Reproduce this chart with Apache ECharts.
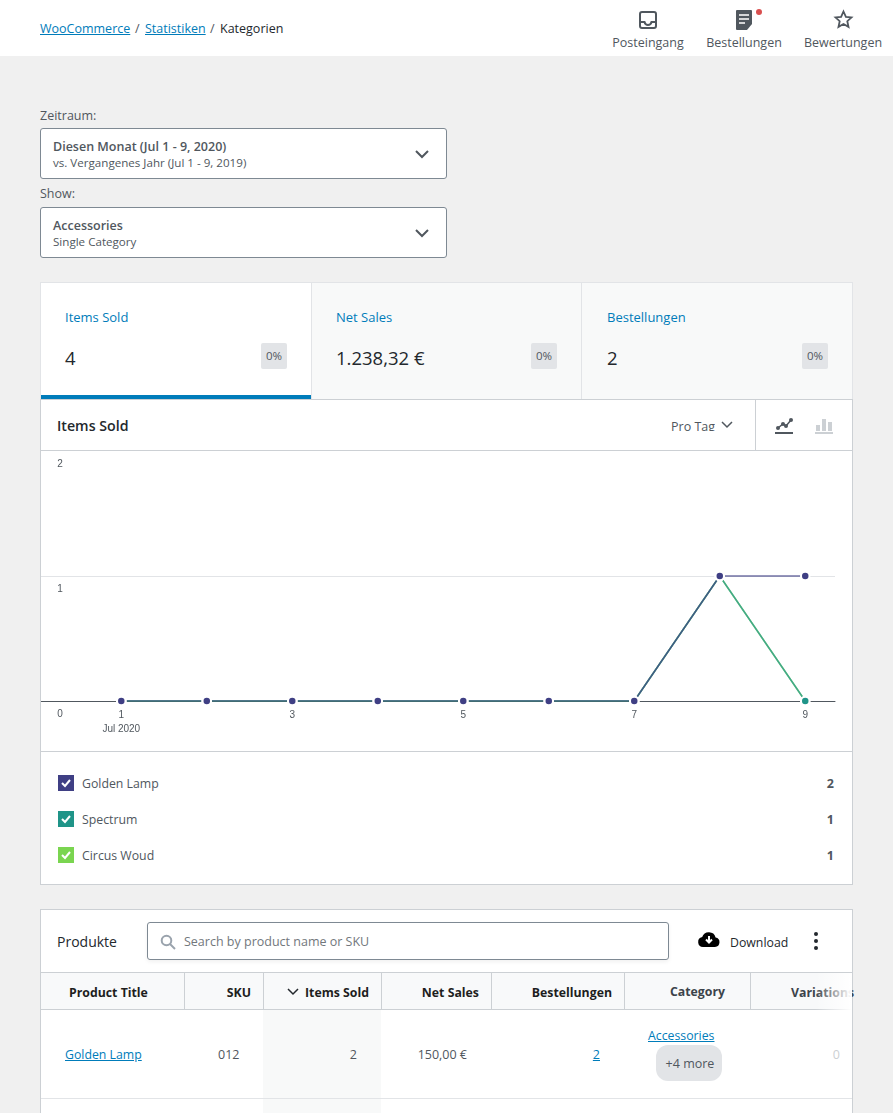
<!DOCTYPE html>
<html>
<head>
<meta charset="utf-8">
<title>Kategorien</title>
<script src="https://cdn.jsdelivr.net/npm/echarts@6/dist/echarts.min.js"></script>
<style>
html,body{margin:0;padding:0;width:893px;height:1113px;overflow:hidden;background:#f0f0f0;font-family:"Open Sans","Noto Sans",sans-serif;font-size:12.5px;color:#50575e}
.b{position:absolute;box-sizing:border-box}
.t{position:absolute;white-space:nowrap;line-height:18px;height:18px;margin-top:1px}
.r{transform:translateX(-100%)}
.c{transform:translateX(-50%)}
a{color:#007cba;text-decoration:underline}
.select{background:#fff;border:1px solid #7e8993;border-radius:3px;left:40px;width:407px;height:51px}
.th{font-weight:700;color:#1e1e1e;font-size:12.3px}
svg{position:absolute;overflow:visible}
</style>
</head>
<body>
<div class="b" style="left:0;top:0;width:893px;height:56px;background:#fff"></div>
<div class="t" style="left:40px;top:19px"><a href="#">WooCommerce</a></div>
<div class="t" style="left:135px;top:19px">/</div>
<div class="t" style="left:145px;top:19px"><a href="#">Statistiken</a></div>
<div class="t" style="left:210px;top:19px">/</div>
<div class="t" style="left:220px;top:19px;color:#23282d">Kategorien</div>

<svg style="left:639px;top:11px" width="18" height="18" fill="none" stroke="#50575e" stroke-width="2"><rect x="1" y="1" width="16" height="16" rx="2"/><path d="M1 11h4.500c.5 2 2 3 3.500 3s3-1 3.500-3H17"/></svg>
<svg style="left:736px;top:10px" width="16" height="20"><path d="M1 0h14a1 1 0 0 1 1 1v13l-5 6H1a1 1 0 0 1-1-1V1a1 1 0 0 1 1-1z" fill="#50575e"/><path d="M3 5h10M3 9h10M3 13h6" stroke="#fff" stroke-width="1.600"/></svg>
<svg style="left:756px;top:9px" width="6" height="6"><circle cx="3" cy="3" r="3" fill="#d94f4f"/></svg>
<svg style="left:834px;top:10px" width="19" height="19" fill="none" stroke="#50575e" stroke-width="1.800"><path d="M9.500 1.500l2.400 5.300 5.600.6-4.200 3.800 1.200 5.700-5-2.900-5 2.900 1.200-5.700L1.500 7.400l5.600-.6z"/></svg>
<div class="t c" style="left:648px;top:33px">Posteingang</div>
<div class="t c" style="left:744px;top:33px">Bestellungen</div>
<div class="t c" style="left:843px;top:33px">Bewertungen</div>

<div class="t" style="left:40px;top:106px">Zeitraum:</div>
<div class="b select" style="top:128px"></div>
<div class="t" style="left:53px;top:137px;font-weight:600">Diesen Monat (Jul 1 - 9, 2020)</div>
<div class="t" style="left:53px;top:153px;font-size:11.6px">vs. Vergangenes Jahr (Jul 1 - 9, 2019)</div>
<svg style="left:415px;top:150px" width="14" height="10" fill="none" stroke="#50575e" stroke-width="2"><path d="M1 1l6 6 6-6"/></svg>
<div class="t" style="left:40px;top:184px">Show:</div>
<div class="b select" style="top:207px"></div>
<div class="t" style="left:53px;top:216px;font-weight:600">Accessories</div>
<div class="t" style="left:53px;top:232px;font-size:11.6px">Single Category</div>
<svg style="left:415px;top:229px" width="14" height="10" fill="none" stroke="#50575e" stroke-width="2"><path d="M1 1l6 6 6-6"/></svg>

<!-- kpi row -->
<div class="b" style="left:40px;top:282px;width:813px;height:118px;background:#f8f9f9;border:1px solid #e2e4e7"></div>
<div class="b" style="left:41px;top:283px;width:270px;height:116px;background:#fff"></div>
<div class="b" style="left:41px;top:395px;width:270px;height:4px;background:#007cba"></div>
<div class="b" style="left:311px;top:283px;width:1px;height:116px;background:#e2e4e7"></div>
<div class="b" style="left:581px;top:283px;width:1px;height:116px;background:#e2e4e7"></div>
<div id="kpis"></div>

<!-- chart card -->
<div class="b" style="left:40px;top:399px;width:813px;height:486px;background:#fff;border:1px solid #ccd0d4"></div>
<div class="b" style="left:41px;top:450px;width:811px;height:1px;background:#ccd0d4"></div>
<div class="b" style="left:755px;top:400px;width:1px;height:50px;background:#ccd0d4"></div>
<div class="t" style="left:57px;top:416px;font-size:14.2px;font-weight:600;color:#23282d">Items Sold</div>
<div class="t" style="left:671px;top:417px;height:13px;overflow:hidden">Pro Tag</div>
<svg style="left:721px;top:421px" width="12" height="8" fill="none" stroke="#50575e" stroke-width="1.500"><path d="M1 1l5 5 5-5"/></svg>
<svg style="left:775px;top:417px" width="18" height="18" fill="none"><path d="M3 11l5-4 3 2 5-6" stroke="#50575e" stroke-width="1.500"/><circle cx="3" cy="11" r="2" fill="#50575e"/><circle cx="8" cy="7" r="2" fill="#50575e"/><circle cx="11" cy="9" r="2" fill="#50575e"/><circle cx="16" cy="3" r="2" fill="#50575e"/><rect x="0" y="15" width="18" height="2" fill="#50575e"/></svg>
<svg style="left:815px;top:417px" width="18" height="18" fill="#ccd0d4"><rect x="1" y="8" width="4" height="6"/><rect x="7" y="2" width="4" height="12"/><rect x="13" y="5" width="4" height="9"/><rect x="0" y="15" width="18" height="2"/></svg>
<div class="b" id="chart" style="left:41px;top:441px;width:811px;height:310px"></div>
<div class="b" style="left:41px;top:751px;width:811px;height:1px;background:#ccd0d4"></div>
<div id="legend"></div>

<!-- table card -->
<div class="b" style="left:40px;top:909px;width:813px;height:230px;background:#fff;border:1px solid #ccd0d4"></div>
<div class="t" style="left:57px;top:932px;font-size:14px;color:#23282d">Produkte</div>
<div class="b" style="left:147px;top:922px;width:522px;height:38px;background:#fff;border:1px solid #7e8993;border-radius:3px;box-shadow:0 2px 4px rgba(0,0,0,.06)"></div>
<svg style="left:160px;top:934px" width="16" height="16" fill="none" stroke="#9aa3ad" stroke-width="2"><circle cx="6.500" cy="6.500" r="4.800"/><path d="M10 10l5 5"/></svg>
<div class="t" style="left:184px;top:932px;color:#72777c">Search by product name or SKU</div>
<svg style="left:698px;top:931px" width="22" height="16"><path d="M5 16a5 5 0 0 1-.8-9.900A7 7 0 0 1 17.600 6.500 4.800 4.800 0 0 1 17 16z" fill="#000"/><path d="M11 5v6M8 8.500l3 3 3-3" stroke="#fff" stroke-width="2" fill="none"/></svg>
<div class="t" style="left:730px;top:933px;color:#23282d;font-size:12.3px">Download</div>
<svg style="left:813px;top:931px" width="6" height="20" fill="#23282d"><circle cx="3" cy="3" r="2"/><circle cx="3" cy="10" r="2"/><circle cx="3" cy="17" r="2"/></svg>

<div class="b" style="left:41px;top:972px;width:811px;height:38px;background:#f8f9fa;border-top:1px solid #ccd0d4;border-bottom:1px solid #ccd0d4"></div>
<div class="b" style="left:184px;top:972px;width:1px;height:38px;background:#ccd0d4"></div>
<div class="b" style="left:263px;top:972px;width:1px;height:38px;background:#ccd0d4"></div>
<div class="b" style="left:381px;top:972px;width:1px;height:38px;background:#ccd0d4"></div>
<div class="b" style="left:491px;top:972px;width:1px;height:38px;background:#ccd0d4"></div>
<div class="b" style="left:624px;top:972px;width:1px;height:38px;background:#ccd0d4"></div>
<div class="b" style="left:750px;top:972px;width:1px;height:38px;background:#ccd0d4"></div>
<div class="t th" style="left:69px;top:983px">Product Title</div>
<div class="t th r" style="left:251px;top:983px">SKU</div>
<svg style="left:287px;top:988px" width="12" height="8" fill="none" stroke="#23282d" stroke-width="1.500"><path d="M1 1l5 5 5-5"/></svg>
<div class="t th r" style="left:369px;top:983px">Items Sold</div>
<div class="t th r" style="left:479px;top:983px">Net Sales</div>
<div class="t th r" style="left:612px;top:983px">Bestellungen</div>
<div class="t th" style="left:670px;top:982px;color:#3c434a">Category</div>
<div class="t th" style="left:791px;top:983px;color:#3c434a">Variations</div>
<div class="b" style="left:815px;top:973px;width:37px;height:140px;background:linear-gradient(to right,rgba(255,255,255,0),#fff)"></div>

<div class="b" style="left:263px;top:1010px;width:118px;height:103px;background:#f8f9f9"></div>
<div class="b" style="left:41px;top:1098px;width:811px;height:1px;background:#e2e4e7"></div>
<div class="t" style="left:65px;top:1045px;font-size:12.3px"><a href="#">Golden Lamp</a></div>
<div class="t" style="left:218px;top:1045px">012</div>
<div class="t r" style="left:357px;top:1045px">2</div>
<div class="t r" style="left:467px;top:1045px">150,00 €</div>
<div class="t r" style="left:600px;top:1045px"><a href="#">2</a></div>
<div class="t" style="left:648px;top:1026px;font-size:12.3px"><a href="#">Accessories</a></div>
<div class="b" style="left:656px;top:1045px;width:66px;height:36px;background:#e2e4e7;border-radius:12px"></div>
<div class="t c" style="left:690px;top:1054px">+4 more</div>
<div class="t r" style="left:840px;top:1045px;color:#ccd0d4">0</div>

<script>
// chart data
var days = [1, 2, 3, 4, 5, 6, 7, 8, 9];
var goldenLamp = [0, 0, 0, 0, 0, 0, 0, 1, 1];
var spectrum = [0, 0, 0, 0, 0, 0, 0, 1, 0];
var circusWoud = [0, 0, 0, 0, 0, 0, 0, 1, 0];
var tickDays = [1, 3, 5, 7, 9];
var legendNames = ['Golden Lamp', 'Spectrum', 'Circus Woud'];
var legendColors = ['#3f3f84', '#1f9488', '#7ad550'];
var legendTotals = [2, 1, 1];
var kpiNames = ['Items Sold', 'Net Sales', 'Bestellungen'];
var kpiValues = ['4', '1.238,32 €', '2'];
var kpiDeltas = ['0%', '0%', '0%'];

var kpiHtml = '';
for (var i = 0; i < kpiNames.length; i++) {
  var x = [65, 336, 607][i];
  var dx = [261, 531, 802][i];
  kpiHtml += '<div class="t" style="left:' + x + 'px;top:307px;color:#007cba;font-size:13px">' + kpiNames[i] + '</div>';
  kpiHtml += '<div class="t" style="left:' + x + 'px;top:348px;color:#23282d;font-size:18.5px">' + kpiValues[i] + '</div>';
  kpiHtml += '<div class="b" style="left:' + dx + 'px;top:343px;width:26px;height:26px;background:#e2e4e7;border-radius:2px"></div>';
  kpiHtml += '<div class="t c" style="left:' + (dx + 13) + 'px;top:346px;font-size:11.5px">' + kpiDeltas[i] + '</div>';
}
document.getElementById('kpis').innerHTML = kpiHtml;

var legendHtml = '';
for (var j = 0; j < legendNames.length; j++) {
  var y = 775 + j * 36;
  legendHtml += '<div class="b" style="left:58px;top:' + y + 'px;width:16px;height:16px;background:' + legendColors[j] + '"></div>';
  legendHtml += '<svg style="left:58px;top:' + y + 'px" width="16" height="16" fill="none" stroke="#fff" stroke-width="2"><path d="M4 8l3 3 5-6"/></svg>';
  legendHtml += '<div class="t" style="left:82px;top:' + (y - 1) + 'px;font-size:12.3px">' + legendNames[j] + '</div>';
  legendHtml += '<div class="t r" style="left:834px;top:' + (y - 1) + 'px;font-weight:700">' + legendTotals[j] + '</div>';
}
document.getElementById('legend').innerHTML = legendHtml;

function lineSeries(name, values, color) {
  return {
    name: name,
    type: 'line',
    data: days.map(function (d, k) { return [d, values[k]]; }),
    showSymbol: true,
    symbol: 'circle',
    symbolSize: 8.5,
    animation: false,
    lineStyle: { color: color, width: 1.6, opacity: 0.72 },
    itemStyle: { color: color, borderColor: '#fff', borderWidth: 2, opacity: 1 }
  };
}

var chart = echarts.init(document.getElementById('chart'));
chart.setOption({
  animation: false,
  grid: { left: 0, right: 17, top: 10, bottom: 50 },
  xAxis: {
    type: 'value',
    min: 0.061,
    max: 9.348,
    splitLine: { show: false },
    axisLine: { show: true, onZero: false, lineStyle: { color: '#50575e', width: 1 } },
    axisTick: { show: false },
    axisLabel: {
      customValues: tickDays,
      color: '#50575e',
      fontFamily: 'Liberation Sans',
      fontSize: 10,
      lineHeight: 14,
      margin: 7,
      verticalAlign: 'top',
      formatter: function (v) { return v === 1 ? '1\nJul 2020' : String(v); }
    }
  },
  yAxis: {
    type: 'value',
    min: 0,
    max: 2,
    interval: 1,
    axisLine: { show: false },
    axisTick: { show: false },
    splitLine: { showMaxLine: false, lineStyle: { color: '#e2e4e7', width: 1 } },
    axisLabel: {
      inside: true,
      margin: 19,
      align: 'center',
      verticalAlign: 'top',
      padding: [8, 0, 0, 0],
      color: '#50575e',
      fontFamily: 'Liberation Sans',
      fontSize: 10
    }
  },
  series: [
    lineSeries(legendNames[2], circusWoud, legendColors[2]),
    lineSeries(legendNames[1], spectrum, legendColors[1]),
    lineSeries(legendNames[0], goldenLamp, legendColors[0])
  ]
});
</script>
</body>
</html>
